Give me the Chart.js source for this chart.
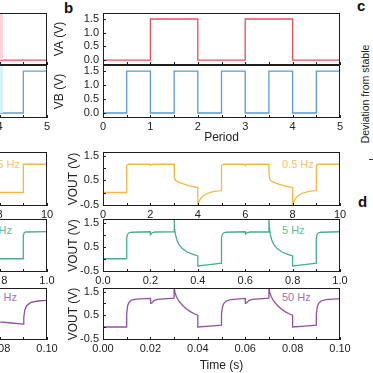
<!DOCTYPE html>
<html>
<head>
<meta charset="utf-8">
<script src="https://cdn.jsdelivr.net/npm/chart.js@4.4.1/dist/chart.umd.min.js"></script>
<style>
  html, body { margin: 0; padding: 0; background: #fff; }
  body { width: 373px; height: 373px; position: relative; overflow: hidden; font-family: "Liberation Sans", Arial, sans-serif; }
  canvas { position: absolute; }
  .t { position: absolute; white-space: nowrap; line-height: 1; }
  .letter { font-weight: bold; font-size: 15px; color: #111; }
  .hz { font-size: 11px; }
</style>
</head>
<body>
<div class="t letter" style="left:64px;top:0px">b</div>
<div class="t letter" style="left:357px;top:-2px">c</div>
<div class="t letter" style="left:358px;top:194px">d</div>
<div class="t" style="left:365px;top:94px;font-size:10.5px;color:#222;transform:translate(-50%,-50%) rotate(-90deg)">Deviation from stable</div>
<div style="position:absolute;left:369px;top:159px;width:4px;height:1px;background:#333"></div>

<div class="t hz" style="left:282px;top:159px;color:#f2c46e">0.5 Hz</div>
<div class="t hz" style="left:282px;top:225px;color:#5dbd98">5 Hz</div>
<div class="t hz" style="left:282px;top:292px;color:#a374b3">50 Hz</div>
<div class="t hz" style="right:353px;top:159px;color:#f2c46e">0.5 Hz</div>
<div class="t hz" style="right:361px;top:225px;color:#5dbd98">5 Hz</div>
<div class="t hz" style="right:356px;top:292px;color:#a374b3">50 Hz</div>

<script>
const FONT = '"Liberation Sans", Arial, sans-serif'
Chart.defaults.font.family = FONT
Chart.defaults.color = '#222'

// ---- data: panel b inputs (x in periods) ----
const vaSteps = [[0, 0], [1, 0], [1, 1.5], [2, 1.5], [2, 0], [3, 0], [3, 1.5], [4, 1.5], [4, 0], [5, 0]]
const vbSteps = [[0, 0], [0.5, 0], [0.5, 1.5], [1, 1.5], [1, 0], [1.5, 0], [1.5, 1.5], [2, 1.5], [2, 0], [2.5, 0],
  [2.5, 1.5], [3, 1.5], [3, 0], [3.5, 0], [3.5, 1.5], [4, 1.5], [4, 0], [4.5, 0], [4.5, 1.5], [5, 1.5]]

// ---- data: panel b outputs (x in seconds) ----
const vout05Hz = [[0, 0], [1, 0], [1, 1.08], [1.03, 1.13], [1.1, 1.15], [1.97, 1.15], [2.0, 1.1], [2.04, 1.14], [2.1, 1.15],
  [3.0, 1.15], [3.0, 0.85], [3.02, 0.6], [3.06, 0.5], [3.12, 0.45], [3.3, 0.38], [3.6, 0.28], [4.0, 0.2],
  [4.0, -0.52], [4.04, -0.4], [4.1, -0.28], [4.2, -0.15], [4.4, -0.03], [4.7, 0.05], [5.0, 0.08],
  [5.0, 1.08], [5.03, 1.13], [5.1, 1.15], [5.97, 1.15], [6.0, 1.1], [6.04, 1.14], [6.1, 1.15],
  [7.0, 1.15], [7.0, 0.85], [7.02, 0.6], [7.06, 0.5], [7.12, 0.45], [7.3, 0.38], [7.6, 0.28], [8.0, 0.2],
  [8.0, -0.52], [8.04, -0.4], [8.1, -0.28], [8.2, -0.15], [8.4, -0.03], [8.7, 0.05], [9.0, 0.08],
  [9.0, 1.08], [9.03, 1.13], [9.1, 1.15], [10, 1.15]]

const vout5Hz = [[0, 0], [0.1, 0], [0.1, 0.85], [0.103, 1.0], [0.108, 1.07], [0.12, 1.1], [0.2, 1.12],
  [0.2, 1.0], [0.203, 1.03], [0.208, 1.08], [0.22, 1.11], [0.3, 1.12],
  [0.3, 1.65], [0.302, 1.3], [0.306, 1.0], [0.312, 0.78], [0.32, 0.6], [0.335, 0.42], [0.355, 0.28], [0.38, 0.18], [0.4, 0.12],
  [0.4, -0.3], [0.45, -0.24], [0.5, -0.18],
  [0.5, 0.85], [0.503, 1.0], [0.508, 1.07], [0.52, 1.1], [0.6, 1.12],
  [0.6, 1.0], [0.603, 1.03], [0.608, 1.08], [0.62, 1.11], [0.7, 1.12],
  [0.7, 1.65], [0.702, 1.3], [0.706, 1.0], [0.712, 0.78], [0.72, 0.6], [0.735, 0.42], [0.755, 0.28], [0.78, 0.18], [0.8, 0.12],
  [0.8, -0.3], [0.85, -0.24], [0.9, -0.18],
  [0.9, 0.85], [0.903, 1.0], [0.908, 1.07], [0.92, 1.1], [1.0, 1.12]]

const vout50Hz = [[0, 0], [0.01, 0], [0.01, 0.55], [0.0104, 0.9], [0.011, 1.05], [0.012, 1.14], [0.014, 1.18], [0.02, 1.21],
  [0.0201, 1.0], [0.0206, 1.02], [0.0215, 1.12], [0.023, 1.17], [0.03, 1.22],
  [0.03, 1.7], [0.0304, 1.45], [0.031, 1.28], [0.032, 1.1], [0.0335, 0.92], [0.035, 0.78], [0.037, 0.64], [0.0385, 0.56], [0.04, 0.5],
  [0.04, 0.0], [0.045, 0.04], [0.05, 0.08],
  [0.05, 0.55], [0.0504, 0.85], [0.051, 1.0], [0.052, 1.1], [0.054, 1.16], [0.06, 1.21],
  [0.0601, 1.0], [0.0606, 1.02], [0.0615, 1.12], [0.063, 1.17], [0.07, 1.22],
  [0.07, 1.7], [0.0704, 1.45], [0.071, 1.28], [0.072, 1.1], [0.0735, 0.92], [0.075, 0.78], [0.077, 0.64], [0.0785, 0.56], [0.08, 0.5],
  [0.08, 0.0], [0.085, 0.04], [0.09, 0.08],
  [0.09, 0.55], [0.0904, 0.85], [0.091, 1.0], [0.092, 1.1], [0.094, 1.16], [0.1, 1.2]]

// ---- data: panel a (only its right edge is in the crop) ----
const aVa = [[3.1, 0], [5, 0]]
const aVb = [[3.9, 0], [4.5, 0], [4.5, 1.5], [5, 1.5]]
const aShade = [[3.1, 1.72], [4.07, 1.72]]
const a05Hz = [[7.8, 0], [9, 0], [9, 1.15], [10, 1.15]]
const a5Hz = [[0.78, 0], [0.9, 0], [0.9, 0.95], [0.903, 1.07], [0.91, 1.11], [1.0, 1.13]]
const a50Hz = [[0.078, 0.25], [0.08, 0.22], [0.085, 0.17], [0.09, 0.12], [0.0902, 0.4], [0.0906, 0.7],
  [0.0914, 0.9], [0.093, 1.03], [0.096, 1.1], [0.1, 1.13]]

const vinRange = [-0.18, 1.72]
const voutRange = [-0.55, 1.65]

const colors = {
  va: '#e2535d',
  vb: '#5a9bd2',
  f05: '#f1b847',
  f5: '#45b189',
  f50: '#93519f'
}

const pts = arr => arr.map(([x, y]) => ({ x, y }))

// frame + inward ticks (major and half-step minor on the bottom, majors on the left)
const framePlugin = {
  id: 'frame',
  afterDatasetsDraw(chart, args, opts) {
    const { ctx, chartArea: a, scales } = chart
    ctx.save()
    ctx.strokeStyle = '#1e1e1e'
    ctx.lineWidth = 1
    ctx.strokeRect(a.left + 0.5, a.top + 0.5, a.right - a.left - 1, a.bottom - a.top - 1)
    ctx.beginPath()
    const xs = scales.x
    const step = opts.xStep / 2
    for (let i = Math.ceil(xs.min / step - 1e-6); i * step <= xs.max + 1e-9; i++) {
      const px = Math.round(xs.getPixelForValue(i * step)) + 0.5
      ctx.moveTo(px, a.bottom)
      ctx.lineTo(px, a.bottom - 3)
    }
    if (opts.yStep) {
      const ys = scales.y
      for (let i = Math.ceil(ys.min / opts.yStep - 1e-6); i * opts.yStep <= ys.max + 1e-9; i++) {
        const py = Math.round(ys.getPixelForValue(i * opts.yStep)) + 0.5
        ctx.moveTo(a.left, py)
        ctx.lineTo(a.left + 3, py)
      }
    }
    ctx.stroke()
    ctx.restore()
  }
}

const PAD_TOP = 14, PAD_RIGHT = 18, PAD_BOTTOM = 12

function makePanel(o) {
  const cLeft = o.canvasLeft !== undefined ? o.canvasLeft : o.l
  const wy = o.l - cLeft
  const hx = o.hx || 0
  const W = Math.round(o.r - cLeft + PAD_RIGHT)
  const H = Math.round(PAD_TOP + (o.b - o.t) + hx + PAD_BOTTOM)
  const cv = document.createElement('canvas')
  cv.width = W
  cv.height = H
  cv.style.left = cLeft + 'px'
  cv.style.top = (o.t - PAD_TOP) + 'px'
  cv.style.width = W + 'px'
  cv.style.height = H + 'px'
  document.body.appendChild(cv)

  new Chart(cv, {
    type: 'line',
    data: { datasets: o.datasets },
    options: {
      responsive: false,
      animation: false,
      events: [],
      layout: { padding: { top: PAD_TOP, right: PAD_RIGHT, bottom: PAD_BOTTOM, left: 0 } },
      plugins: {
        legend: { display: false },
        tooltip: { enabled: false },
        frame: { xStep: o.xStep, yStep: o.yLabels ? 0.5 : 0 }
      },
      elements: { point: { radius: 0 }, line: { borderWidth: 1.3, tension: 0 } },
      scales: {
        x: {
          type: 'linear',
          display: !!o.xLabels,
          min: o.xMin,
          max: o.xMax,
          afterFit: s => { s.height = hx },
          grid: { display: false, drawTicks: false },
          border: { display: false },
          ticks: {
            stepSize: o.xStep,
            includeBounds: false,
            autoSkip: false,
            maxRotation: 0,
            padding: 2,
            font: { size: 11 },
            callback: v => v.toFixed(o.xDigits)
          },
          title: {
            display: !!o.xTitle,
            text: o.xTitle || '',
            font: { size: 12 },
            padding: { top: 0, bottom: 0.8 }
          }
        },
        y: {
          display: !!o.yLabels,
          min: o.yRange[0],
          max: o.yRange[1],
          afterFit: s => { s.width = wy },
          grid: { display: false, drawTicks: false },
          border: { display: false },
          ticks: {
            stepSize: 0.5,
            includeBounds: false,
            padding: 4,
            font: { size: 11 },
            callback: v => v.toFixed(1)
          },
          title: {
            display: !!o.yTitle,
            text: o.yTitle || '',
            font: { size: 12 },
            padding: { top: o.yTitlePad || 0, bottom: 0 }
          }
        }
      }
    },
    plugins: [framePlugin]
  })
}

const line = (data, color, extra) => Object.assign({ data: pts(data), borderColor: color, backgroundColor: color, fill: false }, extra || {})

// ---- panel b ----
makePanel({ l: 103, r: 340, t: 13, b: 65, canvasLeft: 45, xMin: 0, xMax: 5, xStep: 1, yRange: vinRange,
  yLabels: true, yTitle: 'VA (V)', yTitlePad: 7.8, datasets: [line(vaSteps, colors.va)] })
makePanel({ l: 103, r: 340, t: 65, b: 118, canvasLeft: 45, hx: 28, xMin: 0, xMax: 5, xStep: 1, xDigits: 0, xLabels: true,
  xTitle: 'Period', yRange: vinRange, yLabels: true, yTitle: 'VB (V)', yTitlePad: 7.8, datasets: [line(vbSteps, colors.vb)] })
makePanel({ l: 103, r: 340, t: 152, b: 206, canvasLeft: 45, hx: 16, xMin: 0, xMax: 10, xStep: 2, xDigits: 0, xLabels: true,
  yRange: voutRange, yLabels: true, yTitle: 'VOUT (V)', yTitlePad: 21.8, datasets: [line(vout05Hz, colors.f05)] })
makePanel({ l: 103, r: 340, t: 219, b: 272, canvasLeft: 45, hx: 16, xMin: 0, xMax: 1, xStep: 0.2, xDigits: 1, xLabels: true,
  yRange: voutRange, yLabels: true, yTitle: 'VOUT (V)', yTitlePad: 21.8, datasets: [line(vout5Hz, colors.f5)] })
makePanel({ l: 103, r: 340, t: 288, b: 340, canvasLeft: 45, hx: 34, xMin: 0, xMax: 0.1, xStep: 0.02, xDigits: 2, xLabels: true,
  xTitle: 'Time (s)', yRange: voutRange, yLabels: true, yTitle: 'VOUT (V)', yTitlePad: 21.8, datasets: [line(vout50Hz, colors.f50)] })

// ---- panel a (cropped, right edge only) ----
const aSpan = 87 / 47.4
makePanel({ l: -40, r: 47, t: 13, b: 65, xMin: 5 - aSpan, xMax: 5, xStep: 1, yRange: vinRange,
  datasets: [line(aShade, '#fbd6d9', { fill: 'origin', borderWidth: 0 }), line(aVa, colors.va)] })
makePanel({ l: -40, r: 47, t: 65, b: 118, hx: 28, xMin: 5 - aSpan, xMax: 5, xStep: 1, xDigits: 0, xLabels: true, yRange: vinRange,
  datasets: [line(aShade, '#d6f0f8', { fill: 'origin', borderWidth: 0 }), line(aVb, '#6d9fc4')] })
makePanel({ l: -40, r: 47, t: 152, b: 206, hx: 16, xMin: 10 - 2 * aSpan, xMax: 10, xStep: 2, xDigits: 0, xLabels: true,
  yRange: voutRange, datasets: [line(a05Hz, colors.f05)] })
makePanel({ l: -40, r: 47, t: 219, b: 272, hx: 16, xMin: 1 - 0.2 * aSpan, xMax: 1, xStep: 0.2, xDigits: 1, xLabels: true,
  yRange: voutRange, datasets: [line(a5Hz, colors.f5)] })
makePanel({ l: -40, r: 47, t: 288, b: 340, hx: 16, xMin: 0.1 - 0.02 * aSpan, xMax: 0.1, xStep: 0.02, xDigits: 2, xLabels: true,
  yRange: voutRange, datasets: [line(a50Hz, colors.f50)] })
</script>
</body>
</html>
